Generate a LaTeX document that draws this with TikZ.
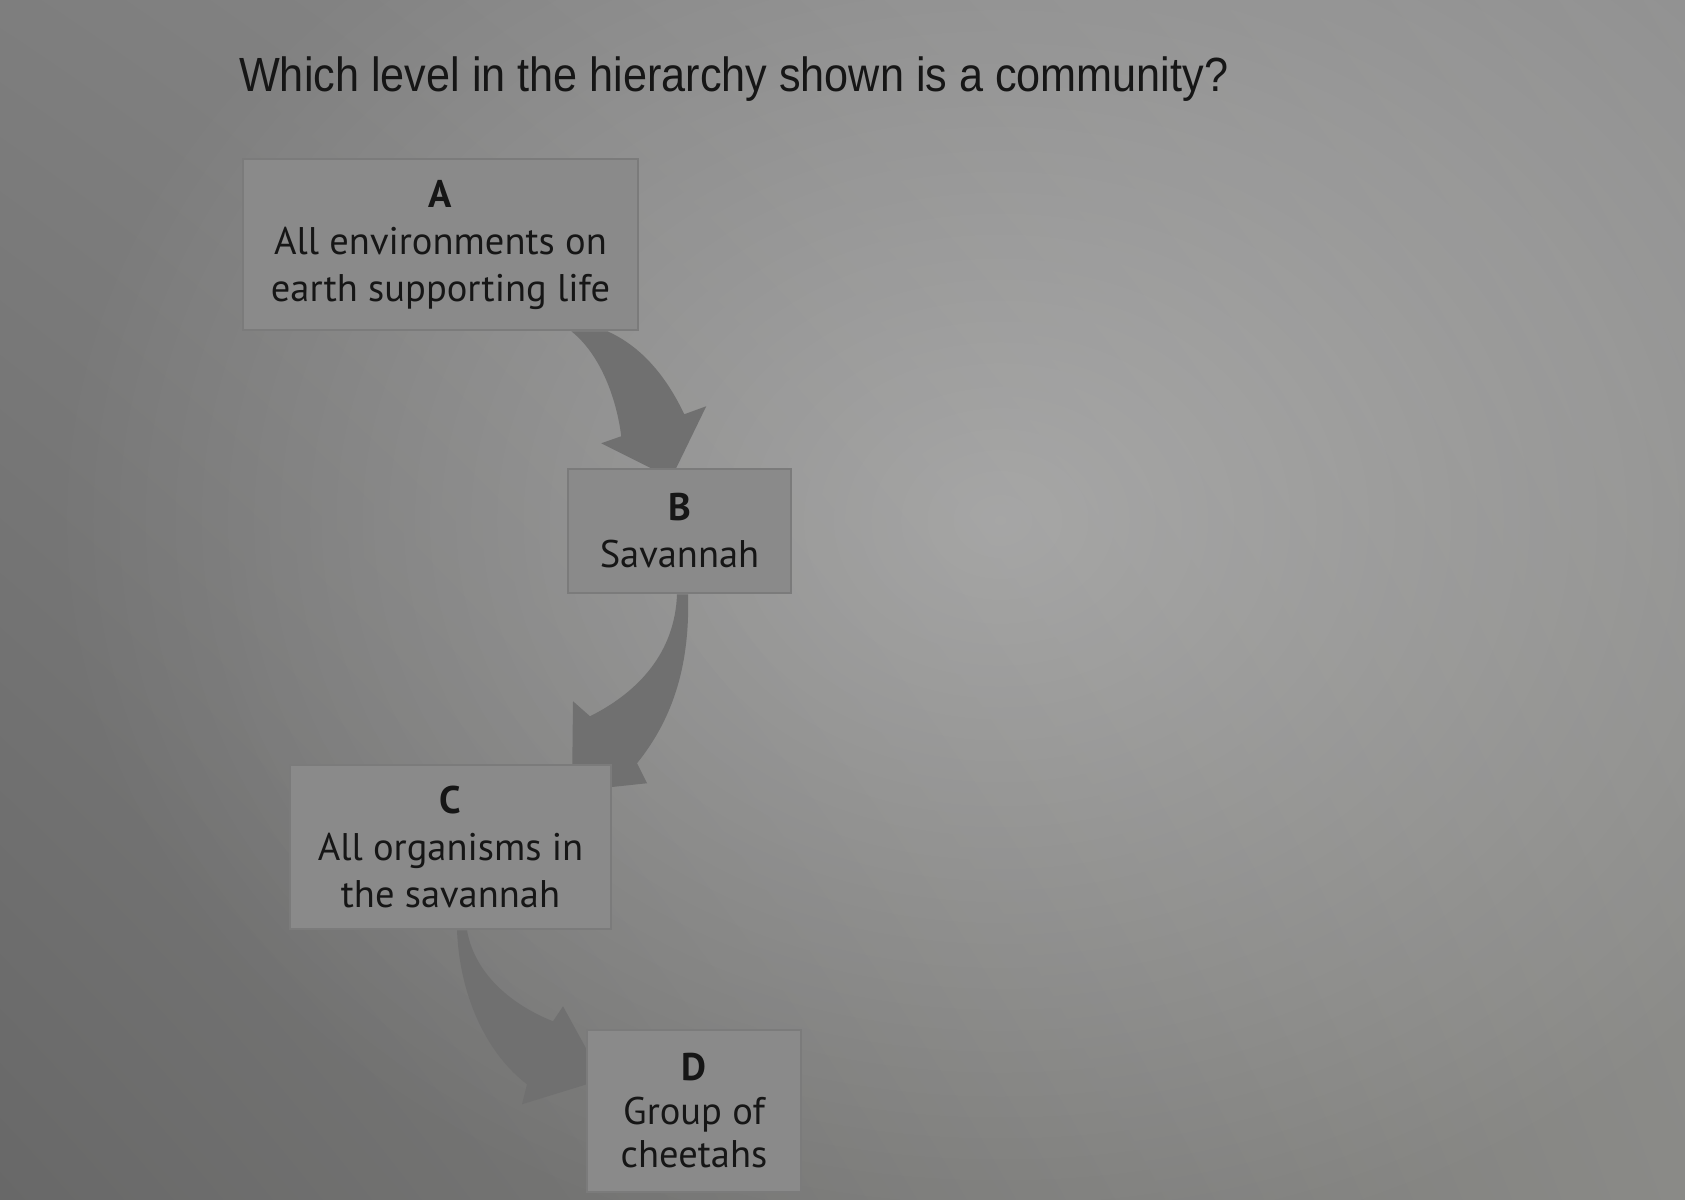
\documentclass[tikz,border=0pt]{standalone}
\usepackage{fontspec}
\usetikzlibrary{shadings,fadings}
\setmainfont{PT Sans}
\newfontfamily\titlefont[FakeStretch=0.9]{Liberation Sans}
\pgfdeclarelayer{bg}
\pgfdeclarelayer{arr}
\pgfsetlayers{bg,arr,main}
\tikzfading[name=softglow, inner color=transparent!0, outer color=transparent!100]
\definecolor{boxfill}{HTML}{8A8A8A}
\definecolor{boxline}{HTML}{7B7B7B}
\definecolor{arrowc}{HTML}{707070}
\definecolor{ink}{HTML}{161616}
\definecolor{bgul}{HTML}{7E7E7E}
\definecolor{bgur}{HTML}{929292}
\definecolor{bgll}{HTML}{686868}
\definecolor{bglr}{HTML}{8A8A87}
\begin{document}
\begin{tikzpicture}[x=1pt,y=-1pt,
  box/.style={draw=boxline, line width=2.5pt, fill=boxfill, inner sep=0pt,
    align=center, text=ink, font=\fontsize{38.5}{47}\selectfont},
  arrowshape/.style={fill=arrowc}]
\useasboundingbox (0,0) rectangle (1685,1199);
\begin{pgfonlayer}{bg}
\shade[upper left=bgul, upper right=bgur, lower left=bgll, lower right=bglr]
  (0,0) rectangle (1685,1199);
\fill[white, opacity=0.28, path fading=softglow]
  (1000,520) ellipse [x radius=950pt, y radius=760pt];
\end{pgfonlayer}

\node[anchor=base west, inner sep=0pt, text=ink,
  font=\titlefont\fontsize{48}{54}\selectfont] (title) at (239,92)
  {Which level in the hierarchy shown is a community?};

\node[box, minimum width=395pt, minimum height=171pt, text depth=8pt] (A) at (440.5,244.5)
  {\textbf{A}\\All environments on\\earth supporting life};
\node[box, minimum width=223pt, minimum height=124pt] (B) at (679.5,531)
  {\textbf{B}\\Savannah};
\node[box, minimum width=321pt, minimum height=164pt] (C) at (450.5,847)
  {\textbf{C}\\All organisms in\\the savannah};
\node[box, minimum width=214pt, minimum height=162pt,
  font=\fontsize{38.5}{43.5}\selectfont] (D) at (694,1111)
  {\textbf{D}\\Group of\\cheetahs};

\begin{pgfonlayer}{arr}
% A -> B
\fill[arrowshape, shift={(A.south east)}]
  (-68,0) .. controls (-40,22) and (-23,65) .. (-18,105)
  -- (-38,112) -- (32,147) -- (67,75) -- (45,83)
  .. controls (27,45) and (2,15) .. (-32,0) -- cycle;
% B -> C
\fill[arrowshape, shift={(B.south)}]
  (-2.5,0) .. controls (-4.5,57) and (-39.5,97) .. (-89.5,122)
  -- (-106.5,107) -- (-107.5,197) -- (-32.5,189) -- (-42.5,169)
  .. controls (-4.5,122) and (10.5,67) .. (8.5,0) -- cycle;
% C -> D
\fill[arrowshape, shift={(C.south)}]
  (6.5,0) .. controls (9.5,71) and (39.5,126) .. (76.5,154)
  -- (71.5,174) -- (152.5,149) -- (112.5,76) -- (102.5,91)
  .. controls (64.5,76) and (24.5,46) .. (16.5,0) -- cycle;
\end{pgfonlayer}
\end{tikzpicture}
\end{document}
